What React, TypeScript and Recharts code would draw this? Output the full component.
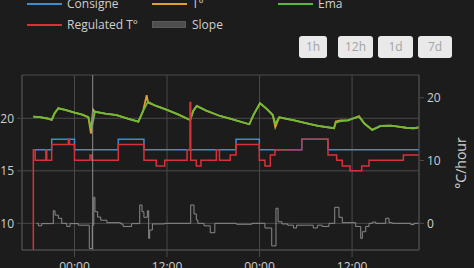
import { LineChart, Line, XAxis, YAxis, CartesianGrid, ReferenceLine, Label } from 'recharts';

// hours relative to the first midnight, value
const consigne = [
  [-5.34, 17], [-2.96, 18], [0, 17], [5.68, 18], [9.01, 17], [20.95, 18],
  [23.97, 17], [29.47, 18], [32.88, 17], [44.68, 17],
];

const temperature = [
  [-5.34, 20.15], [-4.5, 20.1], [-3.5, 19.98], [-2.96, 19.85], [-2.6, 20.45], [-2.1, 20.95],
  [-1.2, 20.8], [0, 20.53], [1, 20.35], [1.79, 20.1], [2.14, 18.55], [2.4, 20.85],
  [2.66, 20.6], [4, 20.45], [5.47, 20.31], [7, 19.95], [8.28, 19.68], [8.9, 20.7],
  [9.36, 22.2], [9.53, 21.5], [10.5, 21.2], [12, 20.8], [13.5, 20.35], [15.0, 19.84],
  [15.4, 20.7], [15.85, 21.17], [17, 20.75], [18.87, 20.22], [20.5, 19.9], [22.67, 19.43],
  [23.2, 20.3], [24.06, 21.43], [25.0, 20.85], [25.71, 20.31], [26.04, 19.15], [26.56, 20.1],
  [27.2, 20.0], [28.5, 19.8], [30, 19.55], [31.58, 19.27], [33.66, 19.05], [33.88, 19.7],
  [34.5, 19.8], [35.5, 19.8], [36.2, 20.0], [36.9, 20.2], [37.6, 19.5], [38.62, 18.9],
  [39.71, 19.27], [41, 19.3], [42, 19.2], [43, 19.1], [44, 19.05], [44.68, 19.14],
];

const ema = [
  [-5.34, 20.15], [-4.5, 20.1], [-3.5, 19.98], [-2.96, 19.85], [-2.6, 20.45], [-2.1, 20.95],
  [-1.2, 20.8], [0, 20.53], [1, 20.35], [1.79, 20.1], [2.2, 19.0], [2.66, 20.63],
  [4, 20.45], [5.47, 20.31], [7, 19.95], [8.28, 19.68], [8.9, 20.7], [9.53, 21.58],
  [10.5, 21.2], [12, 20.8], [13.5, 20.35], [15.0, 19.84], [15.4, 20.7], [15.85, 21.17],
  [17, 20.75], [18.87, 20.22], [20.5, 19.9], [22.67, 19.43], [23.2, 20.3], [24.06, 21.43],
  [25.0, 20.85], [25.71, 20.31], [26.04, 19.5], [26.56, 20.1], [27.2, 20.0], [28.5, 19.8],
  [30, 19.55], [31.58, 19.27], [33.66, 19.05], [33.88, 19.58], [34.5, 19.72], [35.5, 19.8],
  [36.2, 20.0], [36.9, 20.15], [37.6, 19.5], [38.62, 18.9], [39.71, 19.27], [41, 19.3],
  [42, 19.2], [43, 19.1], [44, 19.05], [44.68, 19.14],
];

const regulated = [
  [-5.36, 7.0], [-5.34, 17], [-5.1, 16], [-3.72, 17], [-3.6, 16], [-2.96, 17.5],
  [-0.8, 18], [-0.65, 17.5], [0, 16], [2.01, 16.5], [2.23, 16], [5.68, 17.5],
  [9.01, 16], [10.6, 15.46], [11.7, 16], [14.6, 17], [14.98, 21.5], [15.07, 16],
  [15.8, 15.46], [16.4, 16], [18.4, 17], [18.8, 16], [20.2, 16.5], [20.95, 17.5],
  [23.97, 16], [24.7, 15.46], [25.4, 16.5], [26.0, 17], [29.47, 18], [32.88, 16.5],
  [34.0, 16], [34.73, 15.46], [35.73, 15.0], [37.25, 15.46], [38.2, 16], [42.65, 16.5],
  [44.68, 16.5],
];

const slope = [
  [-4.9, 0], [-4.69, -0.4], [-4.25, -0.05], [-2.75, 2.0], [-2.53, 1.3], [-2.1, 0.8],
  [-1.66, 0], [-1.01, -0.5], [-0.58, -0.05], [0.49, -0.3], [1.92, -4.0], [2.3, -0.3],
  [2.5, 4.15], [2.65, 1.85], [3.0, 1.0], [3.4, 0.5], [4.2, 0.1], [6.0, -0.1],
  [6.3, -0.5], [7.4, -0.05], [8.46, 2.92], [8.75, 1.85], [9.0, 0.96], [9.45, 2.0],
  [9.62, -2.4], [9.75, -1.07], [10.1, -0.1], [11.7, 0.0], [15.07, 2.92], [15.5, 1.5],
  [15.8, 0.53], [16.0, 0], [16.8, -0.4], [17.6, -1.5], [18.2, 0], [21, -0.15],
  [23, 0], [24.7, -0.75], [25.58, -3.6], [26.13, 2.4], [26.4, 0.25], [26.9, -0.1],
  [27.65, -0.3], [28.4, -0.75], [28.8, -0.3], [29.94, -0.3], [30.97, -0.75], [31.5, -0.3],
  [32.14, -0.5], [33.0, 0], [33.75, 2.55], [34.3, 0.96], [34.73, 0.1], [36.47, -0.5],
  [37.12, -2.4], [37.33, -1.34], [37.77, -0.5], [38.2, 0], [38.63, 0.2], [39.07, 0],
  [40.36, 0.8], [40.79, 0.1], [41.22, 0], [43.6, -0.2], [44.03, 0], [44.68, 0],
];

const timeTicks = [0, 12, 24, 36];
const tempTicks = [10, 15, 20];
const slopeTicks = [0, 10, 20];
const ranges = ['1h', '12h', '1d', '7d'];

const rows = (pts: number[][]) => pts.map(([t, v]) => ({ t, v }));

const font = '"Open Sans", sans-serif';
const textColor = '#cfcfcf';
const gridColor = '#4a4a4a';

const legendItems = [
  { name: 'Consigne', color: '#3b8ed0', x: 27, y: 4 },
  { name: 'T°', color: '#e0a030', x: 152, y: 4 },
  { name: 'Ema', color: '#5cb83a', x: 278, y: 4 },
  { name: 'Regulated T°', color: '#d9313a', x: 27, y: 25 },
  { name: 'Slope', color: '#4e4e4e', x: 152, y: 25, box: true },
];

const buttons = [
  { x: 299, w: 28 },
  { x: 338, w: 35 },
  { x: 378, w: 35 },
  { x: 418, w: 34 },
];

export default function App() {
  return (
    <div style={{ position: 'absolute', left: 0, top: 0, width: 474, height: 268, background: '#1c1c1c', overflow: 'hidden', fontFamily: font }}>
      {legendItems.map((it) => (
        <div key={it.name}>
          {it.box ? (
            <div style={{ position: 'absolute', left: it.x, top: it.y - 4, width: 34, height: 7, background: it.color, border: '1px solid #5a5a5a', boxSizing: 'border-box' }} />
          ) : (
            <div style={{ position: 'absolute', left: it.x, top: it.y - 1, width: 35, height: 2, background: it.color }} />
          )}
          <div style={{ position: 'absolute', left: it.x + 40, top: it.y - 9, height: 18, lineHeight: '18px', fontSize: 12, color: textColor, whiteSpace: 'nowrap' }}>
            {it.name}
          </div>
        </div>
      ))}

      {ranges.map((r, i) => (
        <div
          key={r}
          style={{
            position: 'absolute', left: buttons[i].x, top: 36, width: buttons[i].w, height: 22,
            background: '#e9e9e9', borderRadius: 3, color: '#a3a3a3', fontSize: 12,
            lineHeight: '22px', textAlign: 'center',
          }}
        >
          {r}
        </div>
      ))}

      <div style={{ position: 'absolute', left: 0, top: 0 }}>
        <LineChart width={474} height={268} margin={{ top: 75, right: 0, bottom: 0, left: 0 }}>
          <CartesianGrid stroke={gridColor} yAxisId="left" horizontal vertical />
          <XAxis
            dataKey="t"
            type="number"
            domain={[-6.81, 44.68]}
            allowDataOverflow
            ticks={timeTicks}
            tickFormatter={(h) => (h % 24 === 0 ? '00:00' : '12:00')}
            height={18}
            tickSize={7}
            tickMargin={5}
            stroke={gridColor}
            tick={{ fill: textColor, fontSize: 12, fontFamily: font }}
          />
          <YAxis
            yAxisId="left"
            type="number"
            domain={[7.46, 24.12]}
            allowDataOverflow
            ticks={tempTicks}
            width={22}
            tickSize={5}
            tickMargin={3}
            stroke={gridColor}
            tick={{ fill: textColor, fontSize: 12, fontFamily: font }}
          />
          <YAxis
            yAxisId="right"
            orientation="right"
            type="number"
            domain={[-4.25, 23.62]}
            allowDataOverflow
            ticks={slopeTicks}
            width={55}
            tickSize={5}
            tickMargin={3}
            stroke={gridColor}
            tick={{ fill: textColor, fontSize: 12, fontFamily: font }}
          >
            <Label
              content={() => (
                <text x={460} y={163} transform="rotate(-90 460 163)" textAnchor="middle" dominantBaseline="central" fill={textColor} fontSize={14} fontFamily={font}>
                  °C/hour
                </text>
              )}
            />
          </YAxis>
          <Line yAxisId="left" data={rows(consigne)} dataKey="v" type="stepAfter" stroke="#3b8ed0" strokeWidth={1.5} dot={false} isAnimationActive={false} />
          <Line yAxisId="left" data={rows(temperature)} dataKey="v" type="linear" stroke="#e0a030" strokeWidth={1.8} dot={false} isAnimationActive={false} />
          <Line yAxisId="left" data={rows(ema)} dataKey="v" type="linear" stroke="#6cbd35" strokeWidth={1.8} dot={false} isAnimationActive={false} />
          <Line yAxisId="left" data={rows(regulated)} dataKey="v" type="stepAfter" stroke="#d9313a" strokeWidth={1.5} dot={false} isAnimationActive={false} />
          <Line yAxisId="right" data={rows(slope)} dataKey="v" type="stepAfter" stroke="#8a8a8a" strokeWidth={1} dot={false} isAnimationActive={false} />
          <ReferenceLine yAxisId="left" x={2.36} stroke="#8c8c8c" strokeWidth={1} />
        </LineChart>
      </div>
    </div>
  );
}
